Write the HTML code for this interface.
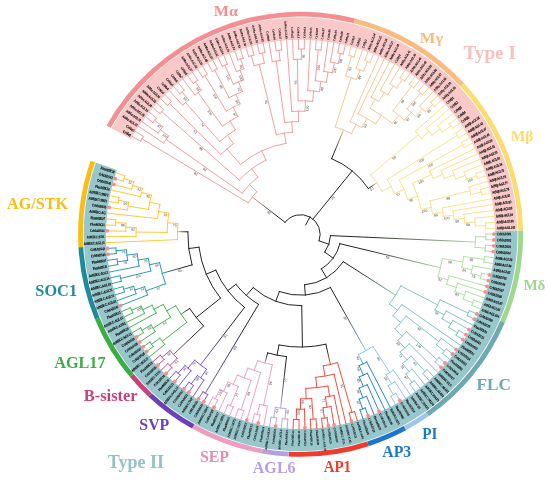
<!DOCTYPE html>
<html lang="en"><head><meta charset="utf-8"><title>MADS-box phylogenetic tree</title>
<style>html,body{margin:0;padding:0;background:#fff}svg{display:block}</style></head>
<body>
<svg width="550" height="481" viewBox="0 0 550 481">
<rect width="550" height="481" fill="#fff"/>
<defs><linearGradient id="g1" gradientUnits="userSpaceOnUse" x1="285.04" y1="222.3" x2="252.25" y2="197.02"><stop offset="0" stop-color="#1a1a1a"/><stop offset="0.25" stop-color="#1a1a1a"/><stop offset="1" stop-color="#f49b9b"/></linearGradient><linearGradient id="g2" gradientUnits="userSpaceOnUse" x1="331.67" y1="158.68" x2="343.47" y2="129.96"><stop offset="0" stop-color="#1a1a1a"/><stop offset="0.25" stop-color="#1a1a1a"/><stop offset="1" stop-color="#f8c492"/></linearGradient><linearGradient id="g3" gradientUnits="userSpaceOnUse" x1="368.33" y1="188.52" x2="376.91" y2="182.73"><stop offset="0" stop-color="#1a1a1a"/><stop offset="0.25" stop-color="#1a1a1a"/><stop offset="1" stop-color="#fcdf86"/></linearGradient><linearGradient id="g4" gradientUnits="userSpaceOnUse" x1="330.57" y1="235.63" x2="475.33" y2="242.03"><stop offset="0" stop-color="#1a1a1a"/><stop offset="0.25" stop-color="#1a1a1a"/><stop offset="1" stop-color="#addf9e"/></linearGradient><linearGradient id="g5" gradientUnits="userSpaceOnUse" x1="339.84" y1="243.7" x2="440.49" y2="267.81"><stop offset="0" stop-color="#1a1a1a"/><stop offset="0.25" stop-color="#1a1a1a"/><stop offset="1" stop-color="#addf9e"/></linearGradient><linearGradient id="g6" gradientUnits="userSpaceOnUse" x1="343.28" y1="261.66" x2="395.57" y2="295.17"><stop offset="0" stop-color="#1a1a1a"/><stop offset="0.25" stop-color="#1a1a1a"/><stop offset="1" stop-color="#82c0c6"/></linearGradient><linearGradient id="g7" gradientUnits="userSpaceOnUse" x1="330.45" y1="287.56" x2="365.87" y2="350.76"><stop offset="0" stop-color="#1a1a1a"/><stop offset="0.25" stop-color="#1a1a1a"/><stop offset="1" stop-color="#8ec3ee"/></linearGradient><linearGradient id="g8" gradientUnits="userSpaceOnUse" x1="358.5" y1="354.59" x2="362.99" y2="363.91"><stop offset="0" stop-color="#8ec3ee"/><stop offset="0.25" stop-color="#8ec3ee"/><stop offset="1" stop-color="#1f7fd2"/></linearGradient><linearGradient id="g9" gradientUnits="userSpaceOnUse" x1="325.82" y1="344.25" x2="330.44" y2="364.42"><stop offset="0" stop-color="#1a1a1a"/><stop offset="0.25" stop-color="#1a1a1a"/><stop offset="1" stop-color="#f0463a"/></linearGradient><linearGradient id="g10" gradientUnits="userSpaceOnUse" x1="286.52" y1="356.64" x2="280.61" y2="408.05"><stop offset="0" stop-color="#1a1a1a"/><stop offset="0.25" stop-color="#1a1a1a"/><stop offset="1" stop-color="#b9a2e6"/></linearGradient><linearGradient id="g11" gradientUnits="userSpaceOnUse" x1="267.66" y1="352.96" x2="264.89" y2="362.94"><stop offset="0" stop-color="#1a1a1a"/><stop offset="0.25" stop-color="#1a1a1a"/><stop offset="1" stop-color="#f09cc0"/></linearGradient><linearGradient id="g12" gradientUnits="userSpaceOnUse" x1="258.57" y1="304.42" x2="205.35" y2="393.19"><stop offset="0" stop-color="#1a1a1a"/><stop offset="0.25" stop-color="#1a1a1a"/><stop offset="1" stop-color="#7852d2"/></linearGradient><linearGradient id="g13" gradientUnits="userSpaceOnUse" x1="244.57" y1="307.4" x2="200.49" y2="364.9"><stop offset="0" stop-color="#1a1a1a"/><stop offset="0.25" stop-color="#1a1a1a"/><stop offset="1" stop-color="#7852d2"/></linearGradient><linearGradient id="g14" gradientUnits="userSpaceOnUse" x1="203.58" y1="326" x2="173.49" y2="354.44"><stop offset="0" stop-color="#1a1a1a"/><stop offset="0.25" stop-color="#1a1a1a"/><stop offset="1" stop-color="#cc3f7e"/></linearGradient><linearGradient id="g15" gradientUnits="userSpaceOnUse" x1="189.61" y1="308.48" x2="181" y2="314.23"><stop offset="0" stop-color="#1a1a1a"/><stop offset="0.25" stop-color="#1a1a1a"/><stop offset="1" stop-color="#3fb54c"/></linearGradient><linearGradient id="g16" gradientUnits="userSpaceOnUse" x1="192.03" y1="264.91" x2="162.15" y2="273.33"><stop offset="0" stop-color="#1a1a1a"/><stop offset="0.25" stop-color="#1a1a1a"/><stop offset="1" stop-color="#2a97aa"/></linearGradient><linearGradient id="g17" gradientUnits="userSpaceOnUse" x1="187.83" y1="231.84" x2="177.48" y2="231.62"><stop offset="0" stop-color="#1a1a1a"/><stop offset="0.25" stop-color="#1a1a1a"/><stop offset="1" stop-color="#fdc535"/></linearGradient></defs>
<path d="M111.45 128.15A216.9 216.9 0 0 1 517.47 230.71L495.17 231.08A194.6 194.6 0 0 0 130.9 139.07Z" fill="#f9c9c9"/>
<path d="M517.47 230.71A216.9 216.9 0 1 1 95.89 162.61L116.94 169.98A194.6 194.6 0 1 0 495.17 231.08Z" fill="#97c6cb"/>
<path d="M106.56 125.41A222.5 222.5 0 0 1 355.09 18.58L353.91 23.23A217.7 217.7 0 0 0 110.75 127.76Z" fill="#f58e90"/>
<path d="M355.09 18.58A222.5 222.5 0 0 1 464.01 83.3L460.49 86.55A217.7 217.7 0 0 0 353.91 23.23Z" fill="#f8bb80"/>
<path d="M464.01 83.3A222.5 222.5 0 0 1 523.07 230.62L518.27 230.7A217.7 217.7 0 0 0 460.49 86.55Z" fill="#fcdc6e"/>
<path d="M523.07 230.62A222.5 222.5 0 0 1 504.76 322.77L500.35 320.86A217.7 217.7 0 0 0 518.27 230.7Z" fill="#9fd78f"/>
<path d="M504.76 322.77A222.5 222.5 0 0 1 428.94 416.05L426.17 412.13A217.7 217.7 0 0 0 500.35 320.86Z" fill="#6fa9b0"/>
<path d="M428.94 416.05A222.5 222.5 0 0 1 405.96 430.28L403.68 426.05A217.7 217.7 0 0 0 426.17 412.13Z" fill="#9cc6ec"/>
<path d="M405.96 430.28A222.5 222.5 0 0 1 368.67 446.13L367.2 441.56A217.7 217.7 0 0 0 403.68 426.05Z" fill="#1b78c8"/>
<path d="M368.67 446.13A222.5 222.5 0 0 1 288.64 456.48L288.9 451.69A217.7 217.7 0 0 0 367.2 441.56Z" fill="#f03b2c"/>
<path d="M288.64 456.48A222.5 222.5 0 0 1 261.79 453.39L262.62 448.66A217.7 217.7 0 0 0 288.9 451.69Z" fill="#b7a0e2"/>
<path d="M261.79 453.39A222.5 222.5 0 0 1 192.05 428.52L194.39 424.33A217.7 217.7 0 0 0 262.62 448.66Z" fill="#ee9dc0"/>
<path d="M192.05 428.52A222.5 222.5 0 0 1 148.48 396.68L151.77 393.18A217.7 217.7 0 0 0 194.39 424.33Z" fill="#6a40bd"/>
<path d="M148.48 396.68A222.5 222.5 0 0 1 129.92 377.03L133.6 373.96A217.7 217.7 0 0 0 151.77 393.18Z" fill="#c8407c"/>
<path d="M129.92 377.03A222.5 222.5 0 0 1 95.02 319.41L99.46 317.58A217.7 217.7 0 0 0 133.6 373.96Z" fill="#3bad45"/>
<path d="M95.02 319.41A222.5 222.5 0 0 1 78.48 247.25L83.27 246.97A217.7 217.7 0 0 0 99.46 317.58Z" fill="#1e8b9c"/>
<path d="M78.48 247.25A222.5 222.5 0 0 1 90.6 160.76L95.13 162.35A217.7 217.7 0 0 0 83.27 246.97Z" fill="#f9bd18"/>
<g fill="none" stroke-width="0.96" stroke-linecap="square">
<path d="M285.04 222.3A19.65 19.65 0 0 1 319.13 240.83M313 219.06L352.21 170.9M331.67 158.68A81.75 81.75 0 0 1 368.33 188.52M319.13 240.83L328.9 244.27M330.57 235.63A30 30 0 0 1 324.78 252.05M324.78 252.05L333.13 258.18M339.84 243.7A40.35 40.35 0 0 1 321.32 268.92M321.32 268.92L326.64 277.8M343.28 261.66A50.7 50.7 0 0 1 304.55 284.85M304.55 284.85L305.35 295.16M330.45 287.56A61.05 61.05 0 0 1 279.38 291.54M279.38 291.54L275.79 301.25M301.77 305.69A71.4 71.4 0 0 1 253.18 287.68M301.77 305.69L302.45 347.08M325.82 344.25A112.8 112.8 0 0 1 279 345.01M279 345.01L277.02 355.17M286.52 356.64A123.15 123.15 0 0 1 267.66 352.96M253.18 287.68L246.31 295.42M258.57 304.42A81.75 81.75 0 0 1 235.93 284.31M235.93 284.31L227.75 290.65M244.57 307.4A92.1 92.1 0 0 1 215.76 270.15M215.76 270.15L206.23 274.18M220.5 298.18A102.45 102.45 0 0 1 198.97 247.23M220.5 298.18L196.22 317.53M203.58 326A133.5 133.5 0 0 1 189.61 308.48M198.97 247.23L188.7 248.53M192.03 264.91A112.8 112.8 0 0 1 187.83 231.84M309.98 217.03L305.69 224.94" stroke="#1a1a1a"/>
<path d="M248.29 202.82A61.05 61.05 0 0 1 256.85 191.72M248.29 202.82L141.88 138.77M140.45 141.2A185.25 185.25 0 0 1 143.35 136.37M140.45 141.2L132.1 136.35M143.35 136.37L135.16 131.27M256.85 191.72L249.43 184.5M242.24 193.17A71.4 71.4 0 0 1 257.9 177.07M242.24 193.17L166.1 139.5M163.63 143.11A164.55 164.55 0 0 1 168.67 135.96M163.63 143.11L138.36 126.29M168.67 135.96L160.37 129.77M158.02 133A174.9 174.9 0 0 1 162.79 126.61M158.02 133L141.72 121.41M162.79 126.61L154.63 120.23M152.92 122.46A185.25 185.25 0 0 1 156.38 118.03M152.92 122.46L145.22 116.64M156.38 118.03L148.87 111.97M257.9 177.07L251.71 168.78M239.36 180.14A81.75 81.75 0 0 1 266.13 160.17M239.36 180.14L161.83 111.58M159.98 113.7A185.25 185.25 0 0 1 163.71 109.48M159.98 113.7L152.66 107.42M163.71 109.48L156.58 102.98M266.13 160.17L261.76 150.79M240.45 164.56A92.1 92.1 0 0 1 286.03 143.36M240.45 164.56L226.93 148.88M220.8 154.58A112.8 112.8 0 0 1 233.46 143.66M220.8 154.58L169.54 103.37M167.57 105.38A185.25 185.25 0 0 1 171.55 101.4M167.57 105.38L160.64 98.66M171.55 101.4L164.83 94.47M233.46 143.66L227.3 135.34M219.63 141.51A123.15 123.15 0 0 1 235.45 129.8M219.63 141.51L185.6 102.52M182.63 105.18A174.9 174.9 0 0 1 188.63 99.94M182.63 105.18L169.14 90.41M188.63 99.94L182.01 91.98M179.86 93.8A185.25 185.25 0 0 1 184.18 90.2M179.86 93.8L173.57 86.48M184.18 90.2L178.12 82.69M235.45 129.8L229.97 121.01M222.34 126.14A133.5 133.5 0 0 1 237.93 116.42M222.34 126.14L198.08 92.6M194.87 94.97A174.9 174.9 0 0 1 201.33 90.3M194.87 94.97L182.78 79.04M201.33 90.3L195.46 81.78M193.15 83.39A185.25 185.25 0 0 1 197.79 80.2M193.15 83.39L187.56 75.53M197.79 80.2L192.43 72.17M237.93 116.42L233.07 107.28M226.3 111.12A143.85 143.85 0 0 1 240.05 103.82M226.3 111.12L204.92 75.67M202.52 77.15A185.25 185.25 0 0 1 207.34 74.24M202.52 77.15L197.41 68.96M207.34 74.24L202.48 65.9M240.05 103.82L235.69 94.43M229.12 97.67A154.2 154.2 0 0 1 242.4 91.5M229.12 97.67L214.73 70.15M212.25 71.48A185.25 185.25 0 0 1 217.23 68.87M212.25 71.48L207.64 63M217.23 68.87L212.89 60.25M242.4 91.5L238.5 81.92M233.32 84.13A164.55 164.55 0 0 1 243.74 79.89M233.32 84.13L224.86 65.24M222.3 66.41A185.25 185.25 0 0 1 227.44 64.11M222.3 66.41L218.22 57.67M227.44 64.11L223.63 55.24M243.74 79.89L240.16 70.17M236.44 71.59A174.9 174.9 0 0 1 243.92 68.84M236.44 71.59L229.1 52.99M243.92 68.84L240.57 59.05M237.91 59.98A185.25 185.25 0 0 1 243.24 58.16M237.91 59.98L234.65 50.9M243.24 58.16L240.25 48.98M286.03 143.36L284.39 133.14M276.36 134.76A102.45 102.45 0 0 1 292.52 132.17M276.36 134.76L259.22 64.37M254.08 65.7A174.9 174.9 0 0 1 264.4 63.19M254.08 65.7L251.32 55.72M248.62 56.49A185.25 185.25 0 0 1 254.04 55M248.62 56.49L245.91 47.23M254.04 55L251.62 45.66M264.4 63.19L262.26 53.06M259.51 53.66A185.25 185.25 0 0 1 265.02 52.5M259.51 53.66L257.37 44.25M265.02 52.5L263.17 43.03M292.52 132.17L291.7 121.85M284.85 122.6A112.8 112.8 0 0 1 298.59 121.52M284.85 122.6L276.18 61.11M272.24 61.71A174.9 174.9 0 0 1 280.13 60.6M272.24 61.71L269 41.98M280.13 60.6L278.92 50.32M276.13 50.67A185.25 185.25 0 0 1 281.72 50.01M276.13 50.67L274.86 41.11M281.72 50.01L280.74 40.41M298.59 121.52L298.41 111.17M291.78 111.47A123.15 123.15 0 0 1 305.04 111.23M291.78 111.47L286.64 39.9M305.04 111.23L305.42 100.89M298.13 100.82A133.5 133.5 0 0 1 312.69 101.35M298.13 100.82L297.36 59.43M293.38 59.55A174.9 174.9 0 0 1 301.35 59.4M293.38 59.55L292.55 39.57M301.35 59.4L301.39 49.05M298.58 49.06A185.25 185.25 0 0 1 304.21 49.09M298.58 49.06L298.47 39.41M304.21 49.09L304.4 39.44M312.69 101.35L313.63 91.04M307.77 90.63A143.85 143.85 0 0 1 319.47 91.69M307.77 90.63L310.32 39.64M319.47 91.69L320.83 81.43M315.3 80.8A154.2 154.2 0 0 1 326.33 82.26M315.3 80.8L318.26 49.89M315.45 49.65A185.25 185.25 0 0 1 321.06 50.18M315.45 49.65L316.23 40.03M321.06 50.18L322.12 40.59M326.33 82.26L328.06 72.06M323.73 71.38A164.55 164.55 0 0 1 332.36 72.84M323.73 71.38L328 41.34M332.36 72.84L334.36 62.69M330.44 61.96A174.9 174.9 0 0 1 338.26 63.5M330.44 61.96L333.85 42.26M338.26 63.5L340.49 53.4M337.73 52.81A185.25 185.25 0 0 1 343.23 54.02M337.73 52.81L339.67 43.36M343.23 54.02L345.45 44.63" stroke="#f49b9b"/>
<path d="M335.22 126.95A112.8 112.8 0 0 1 351.46 133.62M335.22 126.95L351.11 77.69M345.73 76.06A164.55 164.55 0 0 1 356.43 79.51M345.73 76.06L351.4 56.15M348.69 55.4A185.25 185.25 0 0 1 354.1 56.94M348.69 55.4L351.2 46.08M354.1 56.94L356.89 47.71M356.43 79.51L359.95 69.78M356.18 68.47A174.9 174.9 0 0 1 363.68 71.17M356.18 68.47L362.54 49.5M363.68 71.17L367.41 61.52M364.78 60.52A185.25 185.25 0 0 1 370.03 62.55M364.78 60.52L368.12 51.47M370.03 62.55L373.65 53.61M351.46 133.62L356.13 124.38M350.2 121.58A123.15 123.15 0 0 1 361.89 127.49M350.2 121.58L379.1 55.91M361.89 127.49L367.04 118.51M358.06 113.8A133.5 133.5 0 0 1 375.64 123.89M358.06 113.8L384.49 58.38M375.64 123.89L381.46 115.33M370.05 108.33A143.85 143.85 0 0 1 392.16 123.35M370.05 108.33L375.05 99.26M371.17 97.2A154.2 154.2 0 0 1 378.86 101.44M371.17 97.2L389.8 61.01M378.86 101.44L384.12 92.52M380.32 90.35A164.55 164.55 0 0 1 387.86 94.79M380.32 90.35L395.02 63.8M387.86 94.79L393.34 86.02M389.94 83.94A174.9 174.9 0 0 1 396.7 88.17M389.94 83.94L400.16 66.75M396.7 88.17L402.39 79.52M400.02 77.99A185.25 185.25 0 0 1 404.73 81.08M400.02 77.99L405.2 69.85M404.73 81.08L410.15 73.1M392.16 123.35L398.75 115.37M393 110.85A154.2 154.2 0 0 1 404.29 120.17M393 110.85L411.6 85.99M409.33 84.32A185.25 185.25 0 0 1 413.84 87.69M409.33 84.32L415 76.51M413.84 87.69L419.74 80.06M404.29 120.17L411.25 112.5M407.02 108.79A164.55 164.55 0 0 1 415.35 116.36M407.02 108.79L420.41 93.01M418.24 91.2A185.25 185.25 0 0 1 422.54 94.84M418.24 91.2L424.37 83.75M422.54 94.84L428.89 87.58M415.35 116.36L422.56 108.94M419.67 106.19A174.9 174.9 0 0 1 425.39 111.75M419.67 106.19L433.29 91.54M425.39 111.75L432.77 104.5M430.78 102.51A185.25 185.25 0 0 1 434.73 106.52M430.78 102.51L437.57 95.64M434.73 106.52L441.72 99.87" stroke="#f8c492"/>
<path d="M370.91 174.81A92.1 92.1 0 0 1 382.02 191.25M370.91 174.81L418.31 134.7M415.43 131.38A154.2 154.2 0 0 1 421.1 138.09M415.43 131.38L445.74 104.22M421.1 138.09L429.19 131.63M426.42 128.25A164.55 164.55 0 0 1 431.88 135.09M426.42 128.25L449.62 108.69M431.88 135.09L440.13 128.85M437.69 125.69A174.9 174.9 0 0 1 442.5 132.05M437.69 125.69L453.37 113.27M442.5 132.05L450.9 126M449.23 123.73A185.25 185.25 0 0 1 452.53 128.3M449.23 123.73L456.98 117.97M452.53 128.3L460.44 122.78M382.02 191.25L391.17 186.41M387.2 179.57A102.45 102.45 0 0 1 394.59 193.54M387.2 179.57L457.2 135.33M455.68 132.96A185.25 185.25 0 0 1 458.68 137.72M455.68 132.96L463.75 127.69M458.68 137.72L466.92 132.69M394.59 193.54L404.09 189.42M399.44 179.94A112.8 112.8 0 0 1 407.83 199.3M399.44 179.94L462.92 145.03M461.55 142.57A185.25 185.25 0 0 1 464.26 147.51M461.55 142.57L469.93 137.79M464.26 147.51L472.78 142.98M407.83 199.3L417.67 196.09M412.65 183.21A123.15 123.15 0 0 1 421.22 209.45M412.65 183.21L431.49 174.62M429.67 170.79A143.85 143.85 0 0 1 433.19 178.5M429.67 170.79L475.48 148.26M433.19 178.5L442.73 174.49M440.96 170.46A154.2 154.2 0 0 1 444.37 178.56M440.96 170.46L478.01 153.61M444.37 178.56L454.02 174.82M452.39 170.76A164.55 164.55 0 0 1 455.55 178.92M452.39 170.76L480.38 159.04M455.55 178.92L465.3 175.43M463.91 171.7A174.9 174.9 0 0 1 466.6 179.2M463.91 171.7L482.59 164.54M466.6 179.2L476.42 175.94M475.51 173.28A185.25 185.25 0 0 1 477.28 178.62M475.51 173.28L484.62 170.1M477.28 178.62L486.49 175.72M421.22 209.45L431.35 207.36M429.88 201A133.5 133.5 0 0 1 432.51 213.79M429.88 201L469.97 190.67M468.93 186.83A174.9 174.9 0 0 1 470.92 194.55M468.93 186.83L488.18 181.4M470.92 194.55L481 192.19M480.34 189.46A185.25 185.25 0 0 1 481.62 194.94M480.34 189.46L489.7 187.12M481.62 194.94L491.05 192.89M432.51 213.79L442.74 212.2M442.03 208.02A143.85 143.85 0 0 1 443.33 216.39M442.03 208.02L492.22 198.7M443.33 216.39L453.6 215.1M452.99 210.75A154.2 154.2 0 0 1 454.09 219.47M452.99 210.75L493.21 204.53M454.09 219.47L464.39 218.47M463.91 214.12A164.55 164.55 0 0 1 464.75 222.83M463.91 214.12L494.03 210.4M464.75 222.83L475.07 222.11M474.75 218.14A174.9 174.9 0 0 1 475.31 226.09M474.75 218.14L494.67 216.29M475.31 226.09L485.65 225.61M485.49 222.79A185.25 185.25 0 0 1 485.76 228.42M485.49 222.79L495.12 222.2M485.76 228.42L495.4 228.11" stroke="#fcdf86"/>
<path d="M475.48 236.72A174.9 174.9 0 0 1 475.01 247.34M475.48 236.72L485.83 236.86M485.85 234.05A185.25 185.25 0 0 1 485.77 239.68M485.85 234.05L495.5 234.03M485.77 239.68L495.42 239.96M475.01 247.34L485.33 248.11M485.52 245.3A185.25 185.25 0 0 1 485.1 250.92M485.52 245.3L495.16 245.87M485.1 250.92L494.71 251.78M442.39 258.58A143.85 143.85 0 0 1 438 276.9M442.39 258.58L462.79 262.07M463.64 256.51A164.55 164.55 0 0 1 461.75 267.6M463.64 256.51L484.15 259.31M484.51 256.51A185.25 185.25 0 0 1 483.75 262.09M484.51 256.51L494.09 257.67M483.75 262.09L493.29 263.54M461.75 267.6L471.88 269.69M472.64 265.78A174.9 174.9 0 0 1 471.03 273.59M472.64 265.78L492.32 269.38M471.03 273.59L481.12 275.91M481.73 273.17A185.25 185.25 0 0 1 480.46 278.65M481.73 273.17L491.16 275.19M480.46 278.65L489.83 280.96M438 276.9L447.88 279.97M449.12 275.75A154.2 154.2 0 0 1 446.52 284.14M449.12 275.75L488.33 286.69M446.52 284.14L456.32 287.49M457.68 283.33A164.55 164.55 0 0 1 454.85 291.61M457.68 283.33L486.65 292.37M454.85 291.61L464.55 295.21M465.9 291.46A174.9 174.9 0 0 1 463.12 298.93M465.9 291.46L484.8 298M463.12 298.93L472.74 302.76M473.76 300.14A185.25 185.25 0 0 1 471.68 305.37M473.76 300.14L482.78 303.57M471.68 305.37L480.59 309.07" stroke="#addf9e"/>
<path d="M400.89 285.93A112.8 112.8 0 0 1 389.39 303.87M400.89 285.93L437.7 304.88M440.16 299.88A154.2 154.2 0 0 1 435.06 309.78M440.16 299.88L468.26 313.09M469.44 310.53A185.25 185.25 0 0 1 467.04 315.63M469.44 310.53L478.23 314.5M467.04 315.63L475.71 319.86M435.06 309.78L444.09 314.84M446.18 311A164.55 164.55 0 0 1 441.9 318.63M446.18 311L473.03 325.15M441.9 318.63L450.79 323.93M452.79 320.49A174.9 174.9 0 0 1 448.7 327.33M452.79 320.49L470.19 330.34M448.7 327.33L457.47 332.84M458.95 330.44A185.25 185.25 0 0 1 455.95 335.21M458.95 330.44L467.2 335.45M455.95 335.21L464.04 340.47M389.39 303.87L397.54 310.26M401.79 304.49A123.15 123.15 0 0 1 392.96 315.76M401.79 304.49L460.74 345.39M392.96 315.76L400.72 322.61M406.09 316.11A133.5 133.5 0 0 1 394.95 328.75M406.09 316.11L438.81 341.49M441.21 338.31A174.9 174.9 0 0 1 436.33 344.61M441.21 338.31L457.29 350.2M436.33 344.61L444.36 351.14M446.12 348.94A185.25 185.25 0 0 1 442.57 353.31M446.12 348.94L453.7 354.91M442.57 353.31L449.96 359.51M394.95 328.75L402.26 336.07M406.52 331.64A143.85 143.85 0 0 1 397.82 340.33M406.52 331.64L437 359.65M438.89 357.57A185.25 185.25 0 0 1 435.08 361.71M438.89 357.57L446.09 363.99M435.08 361.71L442.08 368.35M397.82 340.33L404.81 347.95M409.26 343.71A154.2 154.2 0 0 1 400.2 352.02M409.26 343.71L437.94 372.58M400.2 352.02L406.88 359.92M411.12 356.21A164.55 164.55 0 0 1 402.53 363.48M411.12 356.21L425.02 371.55M427.09 369.64A185.25 185.25 0 0 1 422.92 373.42M427.09 369.64L433.68 376.69M422.92 373.42L429.29 380.67M402.53 363.48L408.94 371.61M412.04 369.1A174.9 174.9 0 0 1 405.78 374.04M412.04 369.1L424.78 384.52M405.78 374.04L412.01 382.31M414.24 380.6A185.25 185.25 0 0 1 409.74 383.98M414.24 380.6L420.16 388.22M409.74 383.98L415.43 391.78" stroke="#82c0c6"/>
<path d="M372.98 346.47A133.5 133.5 0 0 1 358.5 354.59M372.98 346.47L389.82 372.56M393.46 370.14A164.55 164.55 0 0 1 386.11 374.89M393.46 370.14L410.59 395.2M386.11 374.89L391.49 383.73M394.87 381.62A174.9 174.9 0 0 1 388.06 385.76M394.87 381.62L405.65 398.47M388.06 385.76L393.23 394.73M395.66 393.3A185.25 185.25 0 0 1 390.79 396.11M395.66 393.3L400.61 401.58M390.79 396.11L395.48 404.54" stroke="#8ec3ee"/>
<path d="M366.78 362.02A143.85 143.85 0 0 1 359.15 365.7M366.78 362.02L390.27 407.35M359.15 365.7L363.36 375.15M367.35 373.3A154.2 154.2 0 0 1 359.32 376.88M367.35 373.3L384.97 409.99M359.32 376.88L363.27 386.45M367.29 384.73A164.55 164.55 0 0 1 359.2 388.06M367.29 384.73L379.59 412.48M359.2 388.06L362.88 397.73M366.59 396.27A174.9 174.9 0 0 1 359.14 399.11M366.59 396.27L374.14 414.79M359.14 399.11L362.61 408.86M365.25 407.9A185.25 185.25 0 0 1 359.95 409.79M365.25 407.9L368.62 416.94M359.95 409.79L363.04 418.93" stroke="#1f7fd2"/>
<path d="M337.56 362.58A133.5 133.5 0 0 1 323.23 365.87M337.56 362.58L351.89 412.31M354.59 411.51A185.25 185.25 0 0 1 349.18 413.07M354.59 411.51L357.4 420.74M349.18 413.07L351.71 422.38M323.23 365.87L324.99 376.07M334.09 374.2A143.85 143.85 0 0 1 315.79 377.35M334.09 374.2L345.97 423.85M315.79 377.35L316.88 387.64M327.9 386.06A154.2 154.2 0 0 1 305.78 388.41M327.9 386.06L329.73 396.25M334.02 395.42A164.55 164.55 0 0 1 325.41 396.97M334.02 395.42L340.19 425.14M325.41 396.97L326.97 407.2M330.91 406.55A174.9 174.9 0 0 1 323.03 407.76M330.91 406.55L334.37 426.25M323.03 407.76L324.35 418.02M327.14 417.64A185.25 185.25 0 0 1 321.56 418.36M327.14 417.64L328.52 427.19M321.56 418.36L322.65 427.95M305.78 388.41L306.13 398.76M311.75 398.47A164.55 164.55 0 0 1 300.5 398.85M311.75 398.47L313.15 419.12M315.96 418.91A185.25 185.25 0 0 1 310.34 419.29M315.96 418.91L316.76 428.53M310.34 419.29L310.85 428.93M300.5 398.85L300.5 409.2M304.48 409.16A174.9 174.9 0 0 1 296.51 409.15M304.48 409.16L304.93 429.15M296.51 409.15L296.27 419.5M299.08 419.54A185.25 185.25 0 0 1 293.45 419.41M299.08 419.54L299 429.19M293.45 419.41L293.08 429.05" stroke="#f0463a"/>
<path d="M285.9 408.58A174.9 174.9 0 0 1 275.34 407.37M285.9 408.58L285.03 418.89M287.83 419.11A185.25 185.25 0 0 1 282.22 418.64M287.83 419.11L287.17 428.74M282.22 418.64L281.27 428.24M275.34 407.37L273.84 417.61M276.63 417.99A185.25 185.25 0 0 1 271.06 417.18M276.63 417.99L275.38 427.56M271.06 417.18L269.52 426.71" stroke="#b9a2e6"/>
<path d="M272.34 364.77A133.5 133.5 0 0 1 257.56 360.67M272.34 364.77L263.57 405.24M267.48 406.03A174.9 174.9 0 0 1 259.68 404.35M267.48 406.03L263.69 425.67M259.68 404.35L257.26 414.41M260.01 415.05A185.25 185.25 0 0 1 254.53 413.73M260.01 415.05L257.89 424.46M254.53 413.73L252.13 423.08M257.56 360.67L254.23 370.47M260.61 372.48A143.85 143.85 0 0 1 247.94 368.16M260.61 372.48L246.42 421.52M247.94 368.16L244.15 377.8M251.03 380.31A154.2 154.2 0 0 1 237.4 374.96M251.03 380.31L241.04 409.72M243.72 410.6A185.25 185.25 0 0 1 238.39 408.79M243.72 410.6L240.75 419.78M238.39 408.79L235.15 417.88M237.4 374.96L233.16 384.4M238.33 386.61A164.55 164.55 0 0 1 228.07 382M238.33 386.61L230.5 405.77M233.11 406.82A185.25 185.25 0 0 1 227.9 404.69M233.11 406.82L229.6 415.81M227.9 404.69L224.11 413.57M228.07 382L223.51 391.29M227.11 393.01A174.9 174.9 0 0 1 219.95 389.5M227.11 393.01L218.7 411.16M219.95 389.5L215.18 398.68M217.69 399.96A185.25 185.25 0 0 1 212.69 397.36M217.69 399.96L213.37 408.59M212.69 397.36L208.11 405.86" stroke="#f09cc0"/>
<path d="M207.78 394.62A185.25 185.25 0 0 1 202.95 391.72M207.78 394.62L202.94 402.97M202.95 391.72L197.86 399.92M206.55 369.32A164.55 164.55 0 0 1 194.65 360.2M206.55 369.32L200.63 377.81M203.93 380.06A174.9 174.9 0 0 1 197.39 375.5M203.93 380.06L192.88 396.72M197.39 375.5L191.28 383.85M193.57 385.5A185.25 185.25 0 0 1 189.02 382.18M193.57 385.5L187.99 393.37M189.02 382.18L183.21 389.88M194.65 360.2L187.98 368.12M191.06 370.65A174.9 174.9 0 0 1 184.96 365.52M191.06 370.65L178.53 386.24M184.96 365.52L178.12 373.28M180.24 375.13A185.25 185.25 0 0 1 176.02 371.4M180.24 375.13L173.97 382.46M176.02 371.4L169.53 378.55" stroke="#7852d2"/>
<path d="M177.2 358.25A174.9 174.9 0 0 1 169.9 350.52M177.2 358.25L169.9 365.58M171.91 367.55A185.25 185.25 0 0 1 167.92 363.58M171.91 367.55L165.21 374.5M167.92 363.58L161.01 370.32M169.9 350.52L162.17 357.4M164.05 359.49A185.25 185.25 0 0 1 160.31 355.28M164.05 359.49L156.94 366.01M160.31 355.28L153.01 361.59" stroke="#cc3f7e"/>
<path d="M186.82 322.32A143.85 143.85 0 0 1 175.75 305.75M186.82 322.32L162.27 341.32M164.74 344.45A174.9 174.9 0 0 1 159.86 338.14M164.74 344.45L149.21 357.04M159.86 338.14L151.53 344.29M153.22 346.54A185.25 185.25 0 0 1 149.88 342.01M153.22 346.54L145.55 352.39M149.88 342.01L142.03 347.62M175.75 305.75L166.77 310.89M170.55 317.16A154.2 154.2 0 0 1 163.28 304.45M170.55 317.16L153.1 328.28M155.28 331.62A174.9 174.9 0 0 1 150.99 324.9M155.28 331.62L138.66 342.75M150.99 324.9L142.14 330.26M143.62 332.65A185.25 185.25 0 0 1 140.7 327.84M143.62 332.65L135.44 337.78M140.7 327.84L132.37 332.71M163.28 304.45L154.07 309.16M156.11 313.03A164.55 164.55 0 0 1 152.13 305.24M156.11 313.03L129.46 327.55M152.13 305.24L142.79 309.7M144.55 313.28A174.9 174.9 0 0 1 141.11 306.09M144.55 313.28L126.7 322.31M141.11 306.09L131.67 310.33M132.85 312.89A185.25 185.25 0 0 1 130.54 307.76M132.85 312.89L124.11 316.99M130.54 307.76L121.68 311.58" stroke="#3fb54c"/>
<path d="M165.51 283.73A143.85 143.85 0 0 1 159.58 262.71M165.51 283.73L146.07 290.84M147.63 294.93A164.55 164.55 0 0 1 144.62 286.71M147.63 294.93L119.41 306.11M144.62 286.71L134.81 290.01M136.12 293.77A174.9 174.9 0 0 1 133.58 286.22M136.12 293.77L117.31 300.57M133.58 286.22L123.7 289.29M124.55 291.97A185.25 185.25 0 0 1 122.88 286.59M124.55 291.97L115.38 294.97M122.88 286.59L113.63 289.32M159.58 262.71L149.44 264.75M150.84 271.04A154.2 154.2 0 0 1 148.3 258.41M150.84 271.04L120.69 278.44M121.38 281.17A185.25 185.25 0 0 1 120.04 275.7M121.38 281.17L112.04 283.61M120.04 275.7L110.63 277.86M148.3 258.41L138.07 260.03M139.17 266.18A164.55 164.55 0 0 1 137.21 253.84M139.17 266.18L109.39 272.06M137.21 253.84L126.94 255.07M127.65 260.34A174.9 174.9 0 0 1 126.39 249.78M127.65 260.34L117.41 261.88M117.85 264.66A185.25 185.25 0 0 1 117.02 259.09M117.85 264.66L108.33 266.24M117.02 259.09L107.45 260.38M126.39 249.78L116.08 250.7M116.35 253.5A185.25 185.25 0 0 1 115.85 247.89M116.35 253.5L106.75 254.5M115.85 247.89L106.23 248.6" stroke="#2a97aa"/>
<path d="M177.56 239.6A123.15 123.15 0 0 1 177.91 223.65M177.56 239.6L105.88 242.69M177.91 223.65L167.6 222.75M167.11 232.44A133.5 133.5 0 0 1 168.79 213.13M167.11 232.44L136.07 232.01M136.06 236.38A164.55 164.55 0 0 1 136.19 227.63M136.06 236.38L105.72 236.77M136.19 227.63L125.84 227.21M125.73 231.2A174.9 174.9 0 0 1 126.05 223.23M125.73 231.2L105.73 230.84M126.05 223.23L115.72 222.58M115.56 225.39A185.25 185.25 0 0 1 115.92 219.77M115.56 225.39L105.93 224.92M115.92 219.77L106.3 219.01M168.79 213.13L158.57 211.49M157.6 218.66A143.85 143.85 0 0 1 159.9 204.37M157.6 218.66L106.85 213.11M159.9 204.37L149.77 202.22M148.42 209.41A154.2 154.2 0 0 1 151.47 195.09M148.42 209.41L127.99 206.07M127.39 210.01A174.9 174.9 0 0 1 128.68 202.15M127.39 210.01L107.59 207.24M128.68 202.15L118.51 200.24M118.01 203.01A185.25 185.25 0 0 1 119.05 197.48M118.01 203.01L108.5 201.38M119.05 197.48L109.59 195.56M151.47 195.09L141.46 192.46M140.4 196.71A164.55 164.55 0 0 1 142.63 188.25M140.4 196.71L110.85 189.78M142.63 188.25L132.69 185.35M131.62 189.19A174.9 174.9 0 0 1 133.85 181.54M131.62 189.19L112.29 184.03M133.85 181.54L123.98 178.41M123.15 181.1A185.25 185.25 0 0 1 124.85 175.74M123.15 181.1L113.91 178.33M124.85 175.74L115.7 172.69" stroke="#fdc535"/>
<path d="M285.04 222.3L252.25 197.02" stroke="url(#g1)"/>
<path d="M331.67 158.68L343.47 129.96" stroke="url(#g2)"/>
<path d="M368.33 188.52L376.91 182.73" stroke="url(#g3)"/>
<path d="M330.57 235.63L475.33 242.03" stroke="url(#g4)"/>
<path d="M339.84 243.7L440.49 267.81" stroke="url(#g5)"/>
<path d="M343.28 261.66L395.57 295.17" stroke="url(#g6)"/>
<path d="M330.45 287.56L365.87 350.76" stroke="url(#g7)"/>
<path d="M358.5 354.59L362.99 363.91" stroke="url(#g8)"/>
<path d="M325.82 344.25L330.44 364.42" stroke="url(#g9)"/>
<path d="M286.52 356.64L280.61 408.05" stroke="url(#g10)"/>
<path d="M267.66 352.96L264.89 362.94" stroke="url(#g11)"/>
<path d="M258.57 304.42L205.35 393.19" stroke="url(#g12)"/>
<path d="M244.57 307.4L200.49 364.9" stroke="url(#g13)"/>
<path d="M203.58 326L173.49 354.44" stroke="url(#g14)"/>
<path d="M189.61 308.48L181 314.23" stroke="url(#g15)"/>
<path d="M192.03 264.91L162.15 273.33" stroke="url(#g16)"/>
<path d="M187.83 231.84L177.48 231.62" stroke="url(#g17)"/>
</g>
<g fill="#f98d8d"><circle cx="494" cy="234.04" r="1.9"/><circle cx="493.92" cy="239.91" r="1.9"/><circle cx="493.66" cy="245.78" r="1.9"/><circle cx="493.22" cy="251.65" r="1.9"/><circle cx="489.7" cy="274.88" r="1.9"/><circle cx="488.38" cy="280.6" r="1.9"/><circle cx="486.88" cy="286.29" r="1.9"/><circle cx="485.22" cy="291.92" r="1.9"/><circle cx="476.87" cy="313.89" r="1.9"/><circle cx="474.37" cy="319.21" r="1.9"/><circle cx="468.89" cy="329.6" r="1.9"/><circle cx="465.91" cy="334.67" r="1.9"/><circle cx="462.79" cy="339.65" r="1.9"/><circle cx="456.09" cy="349.31" r="1.9"/><circle cx="452.52" cy="353.98" r="1.9"/><circle cx="444.97" cy="362.99" r="1.9"/><circle cx="440.99" cy="367.32" r="1.9"/><circle cx="399.84" cy="400.29" r="1.9"/><circle cx="378.98" cy="411.1" r="1.9"/><circle cx="368.1" cy="415.54" r="1.9"/><circle cx="351.32" cy="420.93" r="1.9"/><circle cx="334.11" cy="424.77" r="1.9"/><circle cx="328.31" cy="425.7" r="1.9"/><circle cx="304.89" cy="427.65" r="1.9"/><circle cx="275.58" cy="426.07" r="1.9"/><circle cx="258.22" cy="423" r="1.9"/><circle cx="246.84" cy="420.08" r="1.9"/><circle cx="214.04" cy="407.25" r="1.9"/><circle cx="203.69" cy="401.67" r="1.9"/><circle cx="198.65" cy="398.65" r="1.9"/><circle cx="188.86" cy="392.15" r="1.9"/><circle cx="184.11" cy="388.68" r="1.9"/><circle cx="174.95" cy="381.32" r="1.9"/><circle cx="166.25" cy="373.42" r="1.9"/><circle cx="158.05" cy="365" r="1.9"/><circle cx="146.74" cy="351.48" r="1.9"/><circle cx="143.25" cy="346.75" r="1.9"/><circle cx="139.91" cy="341.91" r="1.9"/><circle cx="136.71" cy="336.98" r="1.9"/><circle cx="120.81" cy="305.56" r="1.9"/><circle cx="108.24" cy="254.34" r="1.9"/><circle cx="107.72" cy="248.49" r="1.9"/><circle cx="107.23" cy="230.87" r="1.9"/><circle cx="109.07" cy="207.45" r="1.9"/><circle cx="113.74" cy="184.42" r="1.9"/><circle cx="115.35" cy="178.76" r="1.9"/></g>
<g font-family="'Liberation Serif',serif" font-weight="bold" fill="#050505" stroke="#050505"><text transform="translate(130.98 135.69) rotate(30.17) scale(0.78 1)" text-anchor="end" dy="1.22" font-size="3.7" stroke-width="0.12">CrMα1</text><text transform="translate(134.05 130.59) rotate(31.91) scale(0.78 1)" text-anchor="end" dy="1.22" font-size="3.69" stroke-width="0.12">CrMα2</text><text transform="translate(137.28 125.57) rotate(33.65) scale(0.79 1)" text-anchor="end" dy="1.21" font-size="3.67" stroke-width="0.11">AtMα:AGL23</text><text transform="translate(140.66 120.66) rotate(35.39) scale(0.79 1)" text-anchor="end" dy="1.21" font-size="3.65" stroke-width="0.11">AtMα:AGL28</text><text transform="translate(144.19 115.85) rotate(37.14) scale(0.8 1)" text-anchor="end" dy="1.2" font-size="3.63" stroke-width="0.11">AtMα:AGL29</text><text transform="translate(147.86 111.15) rotate(38.88) scale(0.8 1)" text-anchor="end" dy="1.19" font-size="3.62" stroke-width="0.11">AtMα:AGL39</text><text transform="translate(151.67 106.57) rotate(40.62) scale(0.81 1)" text-anchor="end" dy="1.19" font-size="3.6" stroke-width="0.1">AtMα:AGL40</text><text transform="translate(155.62 102.1) rotate(42.36) scale(0.81 1)" text-anchor="end" dy="1.18" font-size="3.58" stroke-width="0.1">AtMα:AGL55</text><text transform="translate(159.71 97.76) rotate(44.1) scale(0.82 1)" text-anchor="end" dy="1.17" font-size="3.56" stroke-width="0.1">AtMα:AGL56</text><text transform="translate(163.92 93.54) rotate(45.84) scale(0.82 1)" text-anchor="end" dy="1.17" font-size="3.54" stroke-width="0.09">CrMα3</text><text transform="translate(168.26 89.45) rotate(47.58) scale(0.83 1)" text-anchor="end" dy="1.16" font-size="3.52" stroke-width="0.09">CrMα4</text><text transform="translate(172.72 85.5) rotate(49.32) scale(0.84 1)" text-anchor="end" dy="1.15" font-size="3.49" stroke-width="0.09">CrMα5</text><text transform="translate(177.3 81.68) rotate(51.07) scale(0.84 1)" text-anchor="end" dy="1.15" font-size="3.47" stroke-width="0.08">CrMα6</text><text transform="translate(182 78.01) rotate(52.81) scale(0.85 1)" text-anchor="end" dy="1.14" font-size="3.45" stroke-width="0.08">CrMα7</text><text transform="translate(186.8 74.47) rotate(54.55) scale(0.85 1)" text-anchor="end" dy="1.13" font-size="3.43" stroke-width="0.08">CrMα8</text><text transform="translate(191.71 71.09) rotate(56.29) scale(0.86 1)" text-anchor="end" dy="1.13" font-size="3.41" stroke-width="0.08">AtMα:AGL57</text><text transform="translate(196.72 67.86) rotate(58.03) scale(0.87 1)" text-anchor="end" dy="1.12" font-size="3.39" stroke-width="0.07">AtMα:AGL58</text><text transform="translate(201.83 64.78) rotate(59.77) scale(0.87 1)" text-anchor="end" dy="1.11" font-size="3.37" stroke-width="0.07">AtMα:AGL59</text><text transform="translate(207.02 61.85) rotate(61.51) scale(0.88 1)" text-anchor="end" dy="1.1" font-size="3.35" stroke-width="0.07">AtMα:AGL60</text><text transform="translate(212.31 59.09) rotate(63.26) scale(0.89 1)" text-anchor="end" dy="1.1" font-size="3.33" stroke-width="0.06">AtMα:AGL61</text><text transform="translate(217.67 56.49) rotate(65) scale(0.89 1)" text-anchor="end" dy="1.09" font-size="3.31" stroke-width="0.06">AtMα:AGL62</text><text transform="translate(223.11 54.05) rotate(66.74) scale(0.9 1)" text-anchor="end" dy="1.08" font-size="3.29" stroke-width="0.06">AtMα:AGL64</text><text transform="translate(228.63 51.78) rotate(68.48) scale(0.91 1)" text-anchor="end" dy="1.08" font-size="3.27" stroke-width="0.05">AtMα:AGL73</text><text transform="translate(234.21 49.68) rotate(70.22) scale(0.91 1)" text-anchor="end" dy="1.07" font-size="3.25" stroke-width="0.05">AtMα:AGL74</text><text transform="translate(239.85 47.74) rotate(71.96) scale(0.92 1)" text-anchor="end" dy="1.07" font-size="3.23" stroke-width="0.05">AtMα:AGL83</text><text transform="translate(245.54 45.98) rotate(73.7) scale(0.93 1)" text-anchor="end" dy="1.06" font-size="3.21" stroke-width="0.05">AtMα:AGL84</text><text transform="translate(251.29 44.4) rotate(75.44) scale(0.93 1)" text-anchor="end" dy="1.05" font-size="3.19" stroke-width="0.04">AtMα:AGL85</text><text transform="translate(257.08 42.99) rotate(77.19) scale(0.94 1)" text-anchor="end" dy="1.05" font-size="3.18" stroke-width="0.04">AtMα:AGL91</text><text transform="translate(262.92 41.75) rotate(78.93) scale(0.94 1)" text-anchor="end" dy="1.04" font-size="3.16" stroke-width="0.04">AtMα:AGL97</text><text transform="translate(268.79 40.7) rotate(80.67) scale(0.95 1)" text-anchor="end" dy="1.04" font-size="3.15" stroke-width="0.04">CrMα9</text><text transform="translate(274.68 39.82) rotate(82.41) scale(0.95 1)" text-anchor="end" dy="1.03" font-size="3.14" stroke-width="0.04">CrMα10</text><text transform="translate(280.6 39.12) rotate(84.15) scale(0.96 1)" text-anchor="end" dy="1.03" font-size="3.12" stroke-width="0.03">CrMα11</text><text transform="translate(286.55 38.6) rotate(85.89) scale(0.96 1)" text-anchor="end" dy="1.03" font-size="3.11" stroke-width="0.03">AtMα:AGL99</text><text transform="translate(292.5 38.27) rotate(87.63) scale(0.97 1)" text-anchor="end" dy="1.03" font-size="3.11" stroke-width="0.03">CrMα12</text><text transform="translate(298.46 38.11) rotate(89.37) scale(0.97 1)" text-anchor="end" dy="1.02" font-size="3.1" stroke-width="0.03">CrMα13</text><text transform="translate(304.42 38.14) rotate(-88.88) scale(0.97 1)" dy="1.02" font-size="3.1" stroke-width="0.03">CrMα14</text><text transform="translate(310.38 38.34) rotate(-87.14) scale(0.96 1)" dy="1.03" font-size="3.11" stroke-width="0.03">CrMα15</text><text transform="translate(316.33 38.73) rotate(-85.4) scale(0.96 1)" dy="1.03" font-size="3.12" stroke-width="0.03">CrMα16</text><text transform="translate(322.27 39.3) rotate(-83.66) scale(0.96 1)" dy="1.03" font-size="3.13" stroke-width="0.03">CrMα17</text><text transform="translate(328.18 40.05) rotate(-81.92) scale(0.95 1)" dy="1.04" font-size="3.14" stroke-width="0.04">CrMα18</text><text transform="translate(334.07 40.98) rotate(-80.18) scale(0.95 1)" dy="1.04" font-size="3.15" stroke-width="0.04">CrMα19</text><text transform="translate(339.93 42.08) rotate(-78.44) scale(0.94 1)" dy="1.05" font-size="3.17" stroke-width="0.04">CrMα20</text><text transform="translate(345.75 43.37) rotate(-76.7) scale(0.94 1)" dy="1.05" font-size="3.18" stroke-width="0.04">CrMα21</text><text transform="translate(351.53 44.83) rotate(-74.95) scale(0.93 1)" dy="1.06" font-size="3.2" stroke-width="0.04">CrMγ1</text><text transform="translate(357.27 46.46) rotate(-73.21) scale(0.93 1)" dy="1.06" font-size="3.22" stroke-width="0.05">CrMγ2</text><text transform="translate(362.95 48.27) rotate(-71.47) scale(0.92 1)" dy="1.07" font-size="3.23" stroke-width="0.05">CrMγ3</text><text transform="translate(368.57 50.25) rotate(-69.73) scale(0.91 1)" dy="1.07" font-size="3.25" stroke-width="0.05">AtMγ:AGL34</text><text transform="translate(374.13 52.4) rotate(-67.99) scale(0.91 1)" dy="1.08" font-size="3.27" stroke-width="0.06">AtMγ:AGL35</text><text transform="translate(379.63 54.72) rotate(-66.25) scale(0.9 1)" dy="1.09" font-size="3.29" stroke-width="0.06">AtMγ:AGL36</text><text transform="translate(385.05 57.2) rotate(-64.51) scale(0.89 1)" dy="1.09" font-size="3.31" stroke-width="0.06">AtMγ:AGL37</text><text transform="translate(390.39 59.85) rotate(-62.76) scale(0.89 1)" dy="1.1" font-size="3.33" stroke-width="0.06">AtMγ:AGL38</text><text transform="translate(395.65 62.66) rotate(-61.02) scale(0.88 1)" dy="1.11" font-size="3.35" stroke-width="0.07">CrMγ4</text><text transform="translate(400.82 65.63) rotate(-59.28) scale(0.87 1)" dy="1.11" font-size="3.37" stroke-width="0.07">AtMγ:AGL41</text><text transform="translate(405.9 68.75) rotate(-57.54) scale(0.87 1)" dy="1.12" font-size="3.39" stroke-width="0.07">AtMγ:AGL45</text><text transform="translate(410.88 72.03) rotate(-55.8) scale(0.86 1)" dy="1.13" font-size="3.42" stroke-width="0.08">AtMγ:AGL46</text><text transform="translate(415.76 75.45) rotate(-54.06) scale(0.85 1)" dy="1.13" font-size="3.44" stroke-width="0.08">AtMγ:AGL48</text><text transform="translate(420.54 79.03) rotate(-52.32) scale(0.85 1)" dy="1.14" font-size="3.46" stroke-width="0.08">AtMγ:AGL80</text><text transform="translate(425.2 82.74) rotate(-50.58) scale(0.84 1)" dy="1.15" font-size="3.48" stroke-width="0.09">AtMγ:AGL86</text><text transform="translate(429.75 86.6) rotate(-48.83) scale(0.83 1)" dy="1.16" font-size="3.5" stroke-width="0.09">AtMγ:AGL87</text><text transform="translate(434.17 90.59) rotate(-47.09) scale(0.83 1)" dy="1.16" font-size="3.52" stroke-width="0.09">AtMγ:AGL90</text><text transform="translate(438.48 94.72) rotate(-45.35) scale(0.82 1)" dy="1.17" font-size="3.54" stroke-width="0.09">AtMγ:AGL92</text><text transform="translate(442.66 98.97) rotate(-43.61) scale(0.82 1)" dy="1.18" font-size="3.56" stroke-width="0.1">AtMγ:AGL95</text><text transform="translate(446.7 103.35) rotate(-41.87) scale(0.81 1)" dy="1.18" font-size="3.58" stroke-width="0.1">CrMβ1</text><text transform="translate(450.62 107.85) rotate(-40.13) scale(0.81 1)" dy="1.19" font-size="3.6" stroke-width="0.1">CrMβ2</text><text transform="translate(454.39 112.47) rotate(-38.39) scale(0.8 1)" dy="1.19" font-size="3.62" stroke-width="0.11">CrMβ3</text><text transform="translate(458.02 117.2) rotate(-36.65) scale(0.79 1)" dy="1.2" font-size="3.64" stroke-width="0.11">CrMβ4</text><text transform="translate(461.51 122.03) rotate(-34.9) scale(0.79 1)" dy="1.21" font-size="3.66" stroke-width="0.11">CrMβ5</text><text transform="translate(464.84 126.98) rotate(-33.16) scale(0.79 1)" dy="1.21" font-size="3.67" stroke-width="0.11">AtMβ:AGL26</text><text transform="translate(468.03 132.02) rotate(-31.42) scale(0.78 1)" dy="1.22" font-size="3.69" stroke-width="0.12">AtMβ:AGL43</text><text transform="translate(471.06 137.15) rotate(-29.68) scale(0.78 1)" dy="1.22" font-size="3.71" stroke-width="0.12">AtMβ:AGL47</text><text transform="translate(473.93 142.37) rotate(-27.94) scale(0.77 1)" dy="1.23" font-size="3.72" stroke-width="0.12">AtMβ:AGL49</text><text transform="translate(476.65 147.68) rotate(-26.2) scale(0.77 1)" dy="1.23" font-size="3.74" stroke-width="0.12">AtMβ:AGL50</text><text transform="translate(479.2 153.07) rotate(-24.46) scale(0.76 1)" dy="1.24" font-size="3.75" stroke-width="0.13">AtMβ:AGL51</text><text transform="translate(481.58 158.54) rotate(-22.71) scale(0.76 1)" dy="1.24" font-size="3.76" stroke-width="0.13">AtMβ:AGL52</text><text transform="translate(483.8 164.07) rotate(-20.97) scale(0.76 1)" dy="1.25" font-size="3.78" stroke-width="0.13">AtMβ:AGL53</text><text transform="translate(485.85 169.67) rotate(-19.23) scale(0.76 1)" dy="1.25" font-size="3.79" stroke-width="0.13">AtMβ:AGL54</text><text transform="translate(487.73 175.33) rotate(-17.49) scale(0.75 1)" dy="1.25" font-size="3.8" stroke-width="0.13">AtMβ:AGL75</text><text transform="translate(489.43 181.04) rotate(-15.75) scale(0.75 1)" dy="1.26" font-size="3.81" stroke-width="0.13">AtMβ:AGL76</text><text transform="translate(490.97 186.81) rotate(-14.01) scale(0.75 1)" dy="1.26" font-size="3.82" stroke-width="0.14">AtMβ:AGL77</text><text transform="translate(492.32 192.61) rotate(-12.27) scale(0.75 1)" dy="1.26" font-size="3.82" stroke-width="0.14">AtMβ:AGL78</text><text transform="translate(493.5 198.46) rotate(-10.53) scale(0.74 1)" dy="1.26" font-size="3.83" stroke-width="0.14">AtMβ:AGL81</text><text transform="translate(494.5 204.34) rotate(-8.78) scale(0.74 1)" dy="1.27" font-size="3.84" stroke-width="0.14">AtMβ:AGL82</text><text transform="translate(495.32 210.24) rotate(-7.04) scale(0.74 1)" dy="1.27" font-size="3.84" stroke-width="0.14">AtMβ:AGL89</text><text transform="translate(495.96 216.17) rotate(-5.3) scale(0.74 1)" dy="1.27" font-size="3.85" stroke-width="0.14">AtMβ:AGL93</text><text transform="translate(496.42 222.11) rotate(-3.56) scale(0.74 1)" dy="1.27" font-size="3.85" stroke-width="0.14">AtMβ:AGL98</text><text transform="translate(496.7 228.07) rotate(-1.82) scale(0.74 1)" dy="1.27" font-size="3.85" stroke-width="0.14">AtMβ:AGL103</text></g>
<g font-family="'Liberation Serif',serif" font-weight="bold" fill="#080808" stroke="#080808"><text transform="translate(496.8 234.03) rotate(-0.08) scale(0.74 1)" dy="1.27" font-size="3.85" stroke-width="0.14">CrMADS01</text><text transform="translate(496.72 239.99) rotate(1.66) scale(0.74 1)" dy="1.27" font-size="3.85" stroke-width="0.14">CrMADS02</text><text transform="translate(496.45 245.95) rotate(3.4) scale(0.74 1)" dy="1.27" font-size="3.85" stroke-width="0.14">CrMADS03</text><text transform="translate(496.01 251.9) rotate(5.15) scale(0.74 1)" dy="1.27" font-size="3.85" stroke-width="0.14">CrMADS04</text><text transform="translate(495.38 257.83) rotate(6.89) scale(0.74 1)" dy="1.27" font-size="3.84" stroke-width="0.14">AtMδ:AGL30</text><text transform="translate(494.58 263.73) rotate(8.63) scale(0.74 1)" dy="1.27" font-size="3.84" stroke-width="0.14">AtMδ:AGL94</text><text transform="translate(493.6 269.62) rotate(10.37) scale(0.74 1)" dy="1.26" font-size="3.83" stroke-width="0.14">AtMδ:AGL65</text><text transform="translate(492.43 275.46) rotate(12.11) scale(0.75 1)" dy="1.26" font-size="3.83" stroke-width="0.14">CrMADS05</text><text transform="translate(491.09 281.27) rotate(13.85) scale(0.75 1)" dy="1.26" font-size="3.82" stroke-width="0.14">CrMADS06</text><text transform="translate(489.58 287.04) rotate(15.59) scale(0.75 1)" dy="1.26" font-size="3.81" stroke-width="0.13">CrMADS07</text><text transform="translate(487.89 292.76) rotate(17.33) scale(0.75 1)" dy="1.25" font-size="3.8" stroke-width="0.13">CrMADS08</text><text transform="translate(486.03 298.42) rotate(19.08) scale(0.76 1)" dy="1.25" font-size="3.79" stroke-width="0.13">AtMδ:AGL67</text><text transform="translate(483.99 304.03) rotate(20.82) scale(0.76 1)" dy="1.25" font-size="3.78" stroke-width="0.13">AtMδ:AGL66</text><text transform="translate(481.79 309.57) rotate(22.56) scale(0.76 1)" dy="1.24" font-size="3.77" stroke-width="0.13">AtMδ:AGL104</text><text transform="translate(479.42 315.04) rotate(24.3) scale(0.76 1)" dy="1.24" font-size="3.75" stroke-width="0.13">CrMADS09</text><text transform="translate(476.88 320.44) rotate(26.04) scale(0.77 1)" dy="1.23" font-size="3.74" stroke-width="0.12">CrMADS10</text><text transform="translate(474.18 325.75) rotate(27.78) scale(0.77 1)" dy="1.23" font-size="3.72" stroke-width="0.12">PhmMIK01</text><text transform="translate(471.32 330.98) rotate(29.52) scale(0.78 1)" dy="1.22" font-size="3.71" stroke-width="0.12">CrMADS11</text><text transform="translate(468.31 336.13) rotate(31.27) scale(0.78 1)" dy="1.22" font-size="3.69" stroke-width="0.12">CrMADS12</text><text transform="translate(465.14 341.18) rotate(33.01) scale(0.78 1)" dy="1.21" font-size="3.68" stroke-width="0.11">CrMADS13</text><text transform="translate(461.81 346.13) rotate(34.75) scale(0.79 1)" dy="1.21" font-size="3.66" stroke-width="0.11">PhmMIK02</text><text transform="translate(458.34 350.97) rotate(36.49) scale(0.79 1)" dy="1.2" font-size="3.64" stroke-width="0.11">CrMADS14</text><text transform="translate(454.72 355.71) rotate(38.23) scale(0.8 1)" dy="1.2" font-size="3.62" stroke-width="0.11">CrMADS15</text><text transform="translate(450.96 360.34) rotate(39.97) scale(0.8 1)" dy="1.19" font-size="3.6" stroke-width="0.1">PhmMIK03</text><text transform="translate(447.06 364.85) rotate(41.71) scale(0.81 1)" dy="1.18" font-size="3.58" stroke-width="0.1">CrMADS16</text><text transform="translate(443.03 369.24) rotate(43.45) scale(0.82 1)" dy="1.18" font-size="3.56" stroke-width="0.1">CrMADS17</text><text transform="translate(438.86 373.51) rotate(45.2) scale(0.82 1)" dy="1.17" font-size="3.54" stroke-width="0.1">AtMIKC:FLC</text><text transform="translate(434.57 377.64) rotate(46.94) scale(0.83 1)" dy="1.16" font-size="3.52" stroke-width="0.09">AtMIKC:MAF1</text><text transform="translate(430.15 381.65) rotate(48.68) scale(0.83 1)" dy="1.16" font-size="3.5" stroke-width="0.09">AtMIKC:MAF2</text><text transform="translate(425.61 385.52) rotate(50.42) scale(0.84 1)" dy="1.15" font-size="3.48" stroke-width="0.09">AtMIKC:MAF3</text><text transform="translate(420.96 389.25) rotate(52.16) scale(0.85 1)" dy="1.14" font-size="3.46" stroke-width="0.08">AtMIKC:MAF4</text><text transform="translate(416.19 392.83) rotate(53.9) scale(0.85 1)" dy="1.13" font-size="3.44" stroke-width="0.08">AtMIKC:MAF5</text><text transform="translate(411.32 396.27) rotate(55.64) scale(0.86 1)" dy="1.13" font-size="3.42" stroke-width="0.08">AtMIKC:PI</text><text transform="translate(406.35 399.56) rotate(57.38) scale(0.87 1)" dy="1.12" font-size="3.4" stroke-width="0.07">PhmMIK04</text><text transform="translate(401.28 402.7) rotate(59.13) scale(0.87 1)" dy="1.11" font-size="3.38" stroke-width="0.07">CrMADS18</text><text transform="translate(396.12 405.68) rotate(60.87) scale(0.88 1)" dy="1.11" font-size="3.35" stroke-width="0.07">PhmMIK05</text><text transform="translate(390.87 408.5) rotate(62.61) scale(0.89 1)" dy="1.1" font-size="3.33" stroke-width="0.06">AtMIKC:AP3</text><text transform="translate(385.53 411.17) rotate(64.35) scale(0.89 1)" dy="1.09" font-size="3.31" stroke-width="0.06">PhmMIK06</text><text transform="translate(380.12 413.66) rotate(66.09) scale(0.9 1)" dy="1.09" font-size="3.29" stroke-width="0.06">CrMADS19</text><text transform="translate(374.63 416) rotate(67.83) scale(0.91 1)" dy="1.08" font-size="3.27" stroke-width="0.06">PhmMIK07</text><text transform="translate(369.07 418.16) rotate(69.57) scale(0.91 1)" dy="1.07" font-size="3.25" stroke-width="0.05">CrMADS20</text><text transform="translate(363.46 420.16) rotate(71.31) scale(0.92 1)" dy="1.07" font-size="3.24" stroke-width="0.05">PhmMIK08</text><text transform="translate(357.78 421.98) rotate(73.06) scale(0.92 1)" dy="1.06" font-size="3.22" stroke-width="0.05">AtMIKC:AP1</text><text transform="translate(352.05 423.63) rotate(74.8) scale(0.93 1)" dy="1.06" font-size="3.2" stroke-width="0.04">CrMADS21</text><text transform="translate(346.27 425.11) rotate(76.54) scale(0.94 1)" dy="1.05" font-size="3.18" stroke-width="0.04">AtMIKC:CAL</text><text transform="translate(340.45 426.41) rotate(78.28) scale(0.94 1)" dy="1.05" font-size="3.17" stroke-width="0.04">AtMIKC:FUL</text><text transform="translate(334.6 427.53) rotate(80.02) scale(0.95 1)" dy="1.04" font-size="3.15" stroke-width="0.04">CrMADS22</text><text transform="translate(328.71 428.48) rotate(81.76) scale(0.95 1)" dy="1.04" font-size="3.14" stroke-width="0.04">CrMADS23</text><text transform="translate(322.8 429.24) rotate(83.5) scale(0.96 1)" dy="1.03" font-size="3.13" stroke-width="0.03">AtMIKC:AGL79</text><text transform="translate(316.86 429.82) rotate(85.25) scale(0.96 1)" dy="1.03" font-size="3.12" stroke-width="0.03">PhmMIK09</text><text transform="translate(310.91 430.23) rotate(86.99) scale(0.96 1)" dy="1.03" font-size="3.11" stroke-width="0.03">PhmMIK10</text><text transform="translate(304.96 430.45) rotate(88.73) scale(0.97 1)" dy="1.02" font-size="3.1" stroke-width="0.03">CrMADS24</text><text transform="translate(298.99 430.49) rotate(270.47) scale(0.97 1)" text-anchor="end" dy="1.02" font-size="3.1" stroke-width="0.03">PhmMIK11</text><text transform="translate(293.03 430.35) rotate(272.21) scale(0.97 1)" text-anchor="end" dy="1.02" font-size="3.11" stroke-width="0.03">PhmMIK12</text><text transform="translate(287.08 430.03) rotate(273.95) scale(0.96 1)" text-anchor="end" dy="1.03" font-size="3.11" stroke-width="0.03">PhmMIK13</text><text transform="translate(281.14 429.53) rotate(275.69) scale(0.96 1)" text-anchor="end" dy="1.03" font-size="3.12" stroke-width="0.03">AtMIKC:AGL6</text><text transform="translate(275.21 428.85) rotate(277.43) scale(0.95 1)" text-anchor="end" dy="1.03" font-size="3.13" stroke-width="0.04">CrMADS25</text><text transform="translate(269.31 427.99) rotate(279.18) scale(0.95 1)" text-anchor="end" dy="1.04" font-size="3.15" stroke-width="0.04">AtMIKC:AGL13</text><text transform="translate(263.44 426.95) rotate(280.92) scale(0.94 1)" text-anchor="end" dy="1.04" font-size="3.16" stroke-width="0.04">PhmMIK14</text><text transform="translate(257.61 425.73) rotate(282.66) scale(0.94 1)" text-anchor="end" dy="1.05" font-size="3.18" stroke-width="0.04">CrMADS26</text><text transform="translate(251.81 424.34) rotate(284.4) scale(0.93 1)" text-anchor="end" dy="1.05" font-size="3.19" stroke-width="0.04">PhmMIK15</text><text transform="translate(246.06 422.77) rotate(286.14) scale(0.93 1)" text-anchor="end" dy="1.06" font-size="3.21" stroke-width="0.05">CrMADS27</text><text transform="translate(240.35 421.02) rotate(287.88) scale(0.92 1)" text-anchor="end" dy="1.07" font-size="3.23" stroke-width="0.05">AtMIKC:SEP1</text><text transform="translate(234.71 419.1) rotate(289.62) scale(0.92 1)" text-anchor="end" dy="1.07" font-size="3.25" stroke-width="0.05">AtMIKC:SEP2</text><text transform="translate(229.12 417.02) rotate(291.36) scale(0.91 1)" text-anchor="end" dy="1.08" font-size="3.26" stroke-width="0.05">PhmMIK16</text><text transform="translate(223.6 414.76) rotate(293.11) scale(0.9 1)" text-anchor="end" dy="1.08" font-size="3.28" stroke-width="0.06">AtMIKC:SEP3</text><text transform="translate(218.16 412.34) rotate(294.85) scale(0.9 1)" text-anchor="end" dy="1.09" font-size="3.3" stroke-width="0.06">PhmMIK17</text><text transform="translate(212.78 409.75) rotate(296.59) scale(0.89 1)" text-anchor="end" dy="1.1" font-size="3.32" stroke-width="0.06">CrMADS28</text><text transform="translate(207.49 407) rotate(298.33) scale(0.88 1)" text-anchor="end" dy="1.1" font-size="3.35" stroke-width="0.07">AtMIKC:SEP4</text><text transform="translate(202.29 404.09) rotate(300.07) scale(0.88 1)" text-anchor="end" dy="1.11" font-size="3.37" stroke-width="0.07">CrMADS29</text><text transform="translate(197.18 401.03) rotate(301.81) scale(0.87 1)" text-anchor="end" dy="1.12" font-size="3.39" stroke-width="0.07">CrMADS30</text><text transform="translate(192.16 397.81) rotate(303.55) scale(0.86 1)" text-anchor="end" dy="1.12" font-size="3.41" stroke-width="0.08">AtMIKC:SVP</text><text transform="translate(187.24 394.44) rotate(305.3) scale(0.86 1)" text-anchor="end" dy="1.13" font-size="3.43" stroke-width="0.08">CrMADS31</text><text transform="translate(182.42 390.92) rotate(307.04) scale(0.85 1)" text-anchor="end" dy="1.14" font-size="3.45" stroke-width="0.08">CrMADS32</text><text transform="translate(177.72 387.25) rotate(308.78) scale(0.84 1)" text-anchor="end" dy="1.15" font-size="3.47" stroke-width="0.08">AtMIKC:AGL24</text><text transform="translate(173.13 383.45) rotate(310.52) scale(0.84 1)" text-anchor="end" dy="1.15" font-size="3.49" stroke-width="0.09">CrMADS33</text><text transform="translate(168.66 379.51) rotate(312.26) scale(0.83 1)" text-anchor="end" dy="1.16" font-size="3.51" stroke-width="0.09">PhmMIK18</text><text transform="translate(164.3 375.43) rotate(314) scale(0.82 1)" text-anchor="end" dy="1.17" font-size="3.53" stroke-width="0.09">CrMADS34</text><text transform="translate(160.08 371.22) rotate(315.74) scale(0.82 1)" text-anchor="end" dy="1.17" font-size="3.55" stroke-width="0.1">AtMIKC:TT16</text><text transform="translate(155.98 366.89) rotate(317.48) scale(0.81 1)" text-anchor="end" dy="1.18" font-size="3.57" stroke-width="0.1">CrMADS35</text><text transform="translate(152.02 362.44) rotate(319.23) scale(0.81 1)" text-anchor="end" dy="1.19" font-size="3.59" stroke-width="0.1">PhmMIK19</text><text transform="translate(148.2 357.86) rotate(320.97) scale(0.8 1)" text-anchor="end" dy="1.19" font-size="3.61" stroke-width="0.11">AtMIKC:AGL17</text><text transform="translate(144.51 353.17) rotate(322.71) scale(0.8 1)" text-anchor="end" dy="1.2" font-size="3.63" stroke-width="0.11">CrMADS36</text><text transform="translate(140.97 348.38) rotate(324.45) scale(0.79 1)" text-anchor="end" dy="1.2" font-size="3.65" stroke-width="0.11">CrMADS37</text><text transform="translate(137.58 343.47) rotate(326.19) scale(0.79 1)" text-anchor="end" dy="1.21" font-size="3.67" stroke-width="0.11">CrMADS38</text><text transform="translate(134.34 338.47) rotate(327.93) scale(0.78 1)" text-anchor="end" dy="1.22" font-size="3.69" stroke-width="0.12">CrMADS39</text><text transform="translate(131.25 333.37) rotate(329.67) scale(0.78 1)" text-anchor="end" dy="1.22" font-size="3.7" stroke-width="0.12">AtMIKC:AGL21</text><text transform="translate(128.32 328.18) rotate(331.41) scale(0.77 1)" text-anchor="end" dy="1.23" font-size="3.72" stroke-width="0.12">PhmMIK20</text><text transform="translate(125.54 322.9) rotate(333.16) scale(0.77 1)" text-anchor="end" dy="1.23" font-size="3.73" stroke-width="0.12">AtMIKC:ANR1</text><text transform="translate(122.93 317.54) rotate(334.9) scale(0.77 1)" text-anchor="end" dy="1.24" font-size="3.75" stroke-width="0.12">AtMIKC:AGL16</text><text transform="translate(120.48 312.1) rotate(336.64) scale(0.76 1)" text-anchor="end" dy="1.24" font-size="3.76" stroke-width="0.13">PhmMIK21</text><text transform="translate(118.2 306.59) rotate(338.38) scale(0.76 1)" text-anchor="end" dy="1.24" font-size="3.77" stroke-width="0.13">CrMADS41</text><text transform="translate(116.09 301.02) rotate(340.12) scale(0.76 1)" text-anchor="end" dy="1.25" font-size="3.78" stroke-width="0.13">AtMIKC:AGL42</text><text transform="translate(114.15 295.38) rotate(341.86) scale(0.75 1)" text-anchor="end" dy="1.25" font-size="3.79" stroke-width="0.13">AtMIKC:AGL71</text><text transform="translate(112.38 289.68) rotate(343.6) scale(0.75 1)" text-anchor="end" dy="1.26" font-size="3.8" stroke-width="0.13">AtMIKC:AGL72</text><text transform="translate(110.78 283.94) rotate(345.34) scale(0.75 1)" text-anchor="end" dy="1.26" font-size="3.81" stroke-width="0.13">AtMIKC:AGL19</text><text transform="translate(109.36 278.15) rotate(347.09) scale(0.75 1)" text-anchor="end" dy="1.26" font-size="3.82" stroke-width="0.14">AtMIKC:AGL14</text><text transform="translate(108.12 272.32) rotate(348.83) scale(0.75 1)" text-anchor="end" dy="1.26" font-size="3.83" stroke-width="0.14">AtMIKC:SOC1</text><text transform="translate(107.05 266.45) rotate(350.57) scale(0.74 1)" text-anchor="end" dy="1.27" font-size="3.83" stroke-width="0.14">PhmMIK25</text><text transform="translate(106.16 260.55) rotate(352.31) scale(0.74 1)" text-anchor="end" dy="1.27" font-size="3.84" stroke-width="0.14">PhmMIK07</text><text transform="translate(105.46 254.63) rotate(354.05) scale(0.74 1)" text-anchor="end" dy="1.27" font-size="3.84" stroke-width="0.14">CrMADS40</text><text transform="translate(104.93 248.69) rotate(355.79) scale(0.74 1)" text-anchor="end" dy="1.27" font-size="3.85" stroke-width="0.14">CrMADS43</text><text transform="translate(104.58 242.74) rotate(357.53) scale(0.74 1)" text-anchor="end" dy="1.27" font-size="3.85" stroke-width="0.14">AtMIKC:AGL15</text><text transform="translate(104.42 236.78) rotate(359.28) scale(0.74 1)" text-anchor="end" dy="1.27" font-size="3.85" stroke-width="0.14">AtMIKC:STK</text><text transform="translate(104.43 230.82) rotate(361.02) scale(0.74 1)" text-anchor="end" dy="1.27" font-size="3.85" stroke-width="0.14">CrMADS44</text><text transform="translate(104.63 224.86) rotate(362.76) scale(0.74 1)" text-anchor="end" dy="1.27" font-size="3.85" stroke-width="0.14">PhmMIK21</text><text transform="translate(105 218.91) rotate(364.5) scale(0.74 1)" text-anchor="end" dy="1.27" font-size="3.85" stroke-width="0.14">PhmMIK07</text><text transform="translate(105.56 212.97) rotate(366.24) scale(0.74 1)" text-anchor="end" dy="1.27" font-size="3.84" stroke-width="0.14">AtMIKC:AG</text><text transform="translate(106.3 207.06) rotate(367.98) scale(0.74 1)" text-anchor="end" dy="1.27" font-size="3.84" stroke-width="0.14">CrMADS45</text><text transform="translate(107.22 201.17) rotate(369.72) scale(0.74 1)" text-anchor="end" dy="1.27" font-size="3.83" stroke-width="0.14">AtMIKC:SHP1</text><text transform="translate(108.31 195.3) rotate(371.46) scale(0.75 1)" text-anchor="end" dy="1.26" font-size="3.83" stroke-width="0.14">AtMIKC:SHP2</text><text transform="translate(109.59 189.48) rotate(373.21) scale(0.75 1)" text-anchor="end" dy="1.26" font-size="3.82" stroke-width="0.14">PhmMIK36</text><text transform="translate(111.04 183.7) rotate(374.95) scale(0.75 1)" text-anchor="end" dy="1.26" font-size="3.81" stroke-width="0.13">CrMADS46</text><text transform="translate(112.66 177.96) rotate(376.69) scale(0.75 1)" text-anchor="end" dy="1.26" font-size="3.8" stroke-width="0.13">CrMADS42</text><text transform="translate(114.46 172.27) rotate(378.43) scale(0.75 1)" text-anchor="end" dy="1.25" font-size="3.79" stroke-width="0.13">PhmMIK28</text></g>
<g font-family="'Liberation Sans',sans-serif" font-size="3.4" fill="#3a3a3a"><text transform="translate(270.39 211.01) rotate(37.63)" text-anchor="middle" dy="3.3">82</text><text transform="translate(196.97 171.93) rotate(31.04)" text-anchor="middle" dy="3.3">83</text><text transform="translate(205.97 167.6) rotate(35.18)" text-anchor="middle" dy="3.3">93</text><text transform="translate(166.28 134.18) rotate(36.7)" text-anchor="middle" dy="3.3">100</text><text transform="translate(160.44 124.77) rotate(38.01)" text-anchor="middle" dy="3.3">87</text><text transform="translate(202.25 147.32) rotate(41.49)" text-anchor="middle" dy="3.3">99</text><text transform="translate(196.73 130.53) rotate(44.97)" text-anchor="middle" dy="3.3">91</text><text transform="translate(204.06 123.68) rotate(48.89)" text-anchor="middle" dy="3.3">74</text><text transform="translate(186.73 97.65) rotate(50.2)" text-anchor="middle" dy="3.3">95</text><text transform="translate(211.5 111.15) rotate(54.11)" text-anchor="middle" dy="3.3">100</text><text transform="translate(199.64 87.85) rotate(55.42)" text-anchor="middle" dy="3.3">95</text><text transform="translate(236.54 113.8) rotate(62)" text-anchor="middle" dy="3.3">97</text><text transform="translate(216.75 95.28) rotate(58.9)" text-anchor="middle" dy="3.3">100</text><text transform="translate(238.79 101.12) rotate(65.11)" text-anchor="middle" dy="3.3">95</text><text transform="translate(222.95 85.86) rotate(62.38)" text-anchor="middle" dy="3.3">98</text><text transform="translate(241.28 88.75) rotate(67.83)" text-anchor="middle" dy="3.3">92</text><text transform="translate(229.99 76.69) rotate(65.87)" text-anchor="middle" dy="3.3">100</text><text transform="translate(242.71 77.09) rotate(69.79)" text-anchor="middle" dy="3.3">100</text><text transform="translate(242.96 66.02) rotate(71.09)" text-anchor="middle" dy="3.3">95</text><text transform="translate(268.31 101.7) rotate(76.31)" text-anchor="middle" dy="3.3">91</text><text transform="translate(305.15 108.26) rotate(-87.93)" text-anchor="middle" dy="3.3">100</text><text transform="translate(297.79 82.33) rotate(88.94)" text-anchor="middle" dy="3.3">55</text><text transform="translate(301.36 56.43) rotate(-89.75)" text-anchor="middle" dy="3.3">96</text><text transform="translate(319.86 88.74) rotate(-82.46)" text-anchor="middle" dy="3.3">89</text><text transform="translate(316.57 67.54) rotate(-84.53)" text-anchor="middle" dy="3.3">100</text><text transform="translate(332.93 69.92) rotate(-78.87)" text-anchor="middle" dy="3.3">100</text><text transform="translate(338.9 60.6) rotate(-77.57)" text-anchor="middle" dy="3.3">98</text><text transform="translate(331.22 196.68) rotate(-50.86)" text-anchor="middle" dy="3.3">76</text><text transform="translate(347.96 68.22) rotate(-74.08)" text-anchor="middle" dy="3.3">63</text><text transform="translate(357.44 76.71) rotate(-70.17)" text-anchor="middle" dy="3.3">84</text><text transform="translate(363.37 124.9) rotate(-60.15)" text-anchor="middle" dy="3.3">53</text><text transform="translate(394.06 121.06) rotate(-50.47)" text-anchor="middle" dy="3.3">61</text><text transform="translate(400.98 100.18) rotate(-53.19)" text-anchor="middle" dy="3.3">99</text><text transform="translate(406.29 117.96) rotate(-47.75)" text-anchor="middle" dy="3.3">67</text><text transform="translate(412.29 102.58) rotate(-49.7)" text-anchor="middle" dy="3.3">100</text><text transform="translate(417.42 114.23) rotate(-45.79)" text-anchor="middle" dy="3.3">98</text><text transform="translate(427.51 109.67) rotate(-44.48)" text-anchor="middle" dy="3.3">95</text><text transform="translate(370.8 186.86) rotate(-34.05)" text-anchor="middle" dy="3.3">51</text><text transform="translate(392.93 156.17) rotate(-40.24)" text-anchor="middle" dy="3.3">99</text><text transform="translate(420.34 158.63) rotate(-32.29)" text-anchor="middle" dy="3.3">100</text><text transform="translate(397.32 192.36) rotate(-23.44)" text-anchor="middle" dy="3.3">57</text><text transform="translate(429.25 163.55) rotate(-28.81)" text-anchor="middle" dy="3.3">100</text><text transform="translate(410.66 198.38) rotate(-18.08)" text-anchor="middle" dy="3.3">95</text><text transform="translate(420.07 179.83) rotate(-24.51)" text-anchor="middle" dy="3.3">100</text><text transform="translate(469.42 178.27) rotate(-18.36)" text-anchor="middle" dy="3.3">100</text><text transform="translate(424.13 208.85) rotate(-11.64)" text-anchor="middle" dy="3.3">100</text><text transform="translate(447.8 196.39) rotate(-14.44)" text-anchor="middle" dy="3.3">88</text><text transform="translate(435.45 213.33) rotate(-8.84)" text-anchor="middle" dy="3.3">99</text><text transform="translate(446.28 216.02) rotate(-7.15)" text-anchor="middle" dy="3.3">100</text><text transform="translate(457.05 219.18) rotate(-5.52)" text-anchor="middle" dy="3.3">59</text><text transform="translate(467.72 222.63) rotate(-4)" text-anchor="middle" dy="3.3">58</text><text transform="translate(388.03 255.24) rotate(13.47)" text-anchor="middle" dy="3.3">62</text><text transform="translate(450.42 259.95) rotate(9.72)" text-anchor="middle" dy="3.3">98</text><text transform="translate(471.72 257.61) rotate(7.76)" text-anchor="middle" dy="3.3">98</text><text transform="translate(464.66 268.2) rotate(11.68)" text-anchor="middle" dy="3.3">84</text><text transform="translate(473.93 274.26) rotate(12.98)" text-anchor="middle" dy="3.3">79</text><text transform="translate(440.84 277.78) rotate(17.23)" text-anchor="middle" dy="3.3">52</text><text transform="translate(457.64 292.65) rotate(20.38)" text-anchor="middle" dy="3.3">83</text><text transform="translate(437.66 311.23) rotate(29.31)" text-anchor="middle" dy="3.3">59</text><text transform="translate(420.71 327.45) rotate(37.8)" text-anchor="middle" dy="3.3">62</text><text transform="translate(420.14 344.16) rotate(42.58)" text-anchor="middle" dy="3.3">100</text><text transform="translate(399.83 342.52) rotate(47.48)" text-anchor="middle" dy="3.3">82</text><text transform="translate(402.12 354.29) rotate(49.77)" text-anchor="middle" dy="3.3">71</text><text transform="translate(416.59 362.25) rotate(47.81)" text-anchor="middle" dy="3.3">65</text><text transform="translate(404.37 365.82) rotate(51.73)" text-anchor="middle" dy="3.3">51</text><text transform="translate(407.57 376.42) rotate(53.03)" text-anchor="middle" dy="3.3">97</text><text transform="translate(347.08 317.24) rotate(60.73)" text-anchor="middle" dy="3.3">80</text><text transform="translate(380.21 357.67) rotate(57.17)" text-anchor="middle" dy="3.3">99</text><text transform="translate(387.66 377.43) rotate(58.69)" text-anchor="middle" dy="3.3">98</text><text transform="translate(359.79 357.27) rotate(64.3)" text-anchor="middle" dy="3.3">93</text><text transform="translate(360.36 368.41) rotate(65.98)" text-anchor="middle" dy="3.3">54</text><text transform="translate(360.46 379.63) rotate(67.61)" text-anchor="middle" dy="3.3">85</text><text transform="translate(360.26 390.84) rotate(69.14)" text-anchor="middle" dy="3.3">96</text><text transform="translate(360.14 401.91) rotate(70.44)" text-anchor="middle" dy="3.3">87</text><text transform="translate(344.12 385.33) rotate(73.93)" text-anchor="middle" dy="3.3">91</text><text transform="translate(325.86 399.91) rotate(81.33)" text-anchor="middle" dy="3.3">71</text><text transform="translate(323.41 410.71) rotate(82.63)" text-anchor="middle" dy="3.3">97</text><text transform="translate(312.3 406.6) rotate(86.12)" text-anchor="middle" dy="3.3">90</text><text transform="translate(300.5 401.82) rotate(270.03)" text-anchor="middle" dy="3.3">94</text><text transform="translate(296.44 412.13) rotate(271.34)" text-anchor="middle" dy="3.3">100</text><text transform="translate(283.82 380.16) rotate(276.56)" text-anchor="middle" dy="3.3">77</text><text transform="translate(285.65 411.55) rotate(274.82)" text-anchor="middle" dy="3.3">60</text><text transform="translate(274.91 410.31) rotate(278.3)" text-anchor="middle" dy="3.3">54</text><text transform="translate(268.42 382.85) rotate(282.22)" text-anchor="middle" dy="3.3">94</text><text transform="translate(246.74 392.93) rotate(288.75)" text-anchor="middle" dy="3.3">84</text><text transform="translate(235.25 394.16) rotate(292.24)" text-anchor="middle" dy="3.3">77</text><text transform="translate(226.76 384.67) rotate(296.15)" text-anchor="middle" dy="3.3">66</text><text transform="translate(218.58 392.14) rotate(297.46)" text-anchor="middle" dy="3.3">100</text><text transform="translate(233.09 346.91) rotate(300.94)" text-anchor="middle" dy="3.3">80</text><text transform="translate(223.87 334.4) rotate(307.47)" text-anchor="middle" dy="3.3">81</text><text transform="translate(204.85 371.76) rotate(304.86)" text-anchor="middle" dy="3.3">81</text><text transform="translate(195.63 377.9) rotate(306.17)" text-anchor="middle" dy="3.3">98</text><text transform="translate(192.73 362.47) rotate(310.08)" text-anchor="middle" dy="3.3">74</text><text transform="translate(182.99 367.75) rotate(311.39)" text-anchor="middle" dy="3.3">99</text><text transform="translate(175.1 360.36) rotate(314.87)" text-anchor="middle" dy="3.3">61</text><text transform="translate(167.68 352.5) rotate(318.35)" text-anchor="middle" dy="3.3">63</text><text transform="translate(163.68 321.54) rotate(327.5)" text-anchor="middle" dy="3.3">53</text><text transform="translate(148.45 326.44) rotate(328.8)" text-anchor="middle" dy="3.3">99</text><text transform="translate(138.4 307.31) rotate(335.77)" text-anchor="middle" dy="3.3">100</text><text transform="translate(179.21 268.52) rotate(344.26)" text-anchor="middle" dy="3.3">55</text><text transform="translate(157.85 286.53) rotate(339.9)" text-anchor="middle" dy="3.3">57</text><text transform="translate(141.8 287.66) rotate(341.43)" text-anchor="middle" dy="3.3">74</text><text transform="translate(130.74 287.1) rotate(342.73)" text-anchor="middle" dy="3.3">87</text><text transform="translate(156.67 263.3) rotate(348.61)" text-anchor="middle" dy="3.3">56</text><text transform="translate(137.9 274.22) rotate(346.22)" text-anchor="middle" dy="3.3">100</text><text transform="translate(145.36 258.88) rotate(351)" text-anchor="middle" dy="3.3">76</text><text transform="translate(134.26 254.19) rotate(353.18)" text-anchor="middle" dy="3.3">80</text><text transform="translate(124.71 260.78) rotate(351.44)" text-anchor="middle" dy="3.3">78</text><text transform="translate(123.42 250.04) rotate(354.92)" text-anchor="middle" dy="3.3">76</text><text transform="translate(174.95 223.39) rotate(364.96)" text-anchor="middle" dy="3.3">75</text><text transform="translate(133.21 227.51) rotate(362.32)" text-anchor="middle" dy="3.3">92</text><text transform="translate(123.08 223.04) rotate(363.63)" text-anchor="middle" dy="3.3">96</text><text transform="translate(165.85 212.66) rotate(369.12)" text-anchor="middle" dy="3.3">53</text><text transform="translate(125.76 201.6) rotate(370.59)" text-anchor="middle" dy="3.3">90</text><text transform="translate(148.59 194.34) rotate(374.73)" text-anchor="middle" dy="3.3">95</text><text transform="translate(139.77 187.41) rotate(376.25)" text-anchor="middle" dy="3.3">33</text><text transform="translate(131.01 180.64) rotate(377.56)" text-anchor="middle" dy="3.3">52</text></g>
<g font-family="'Liberation Serif',serif" font-weight="bold" text-anchor="middle"><text x="225.8" y="16.3" font-size="15.5" textLength="24" lengthAdjust="spacingAndGlyphs" fill="#f58e90">Mα</text><text x="431.5" y="42.7" font-size="15.5" textLength="23.3" lengthAdjust="spacingAndGlyphs" fill="#f8bb80">Mγ</text><text x="489.7" y="59.3" font-size="18" textLength="52.4" lengthAdjust="spacingAndGlyphs" fill="#f9c0c0">Type I</text><text x="522" y="140.9" font-size="15.5" textLength="22.7" lengthAdjust="spacingAndGlyphs" fill="#fcdc6e">Mβ</text><text x="534.4" y="289.9" font-size="15.5" textLength="22" lengthAdjust="spacingAndGlyphs" fill="#9fd78f">Mδ</text><text x="493.7" y="390" font-size="16.5" textLength="34.5" lengthAdjust="spacingAndGlyphs" fill="#6fa9b0">FLC</text><text x="429.9" y="439.2" font-size="16" textLength="15.1" lengthAdjust="spacingAndGlyphs" fill="#1b78c8">PI</text><text x="396.8" y="456.7" font-size="16" textLength="28.9" lengthAdjust="spacingAndGlyphs" fill="#1b78c8">AP3</text><text x="337.3" y="471.6" font-size="16" textLength="27.3" lengthAdjust="spacingAndGlyphs" fill="#f03b2c">AP1</text><text x="274.2" y="472.7" font-size="16" textLength="42.9" lengthAdjust="spacingAndGlyphs" fill="#b7a0e2">AGL6</text><text x="214.5" y="461.8" font-size="16" textLength="29.1" lengthAdjust="spacingAndGlyphs" fill="#e88bb5">SEP</text><text x="154.3" y="430.2" font-size="16" textLength="29.9" lengthAdjust="spacingAndGlyphs" fill="#6a40bd">SVP</text><text x="135.9" y="468.4" font-size="18" textLength="56.2" lengthAdjust="spacingAndGlyphs" fill="#93c3c9">Type II</text><text x="110.7" y="400.8" font-size="16" textLength="54" lengthAdjust="spacingAndGlyphs" fill="#c8407c">B-sister</text><text x="79.9" y="367.5" font-size="16" textLength="51.4" lengthAdjust="spacingAndGlyphs" fill="#3bad45">AGL17</text><text x="56.2" y="295.5" font-size="16" textLength="41.7" lengthAdjust="spacingAndGlyphs" fill="#1e8b9c">SOC1</text><text x="37.6" y="208.5" font-size="16" textLength="61.1" lengthAdjust="spacingAndGlyphs" fill="#f9bd18">AG/STK</text></g>
</svg>
</body></html>
